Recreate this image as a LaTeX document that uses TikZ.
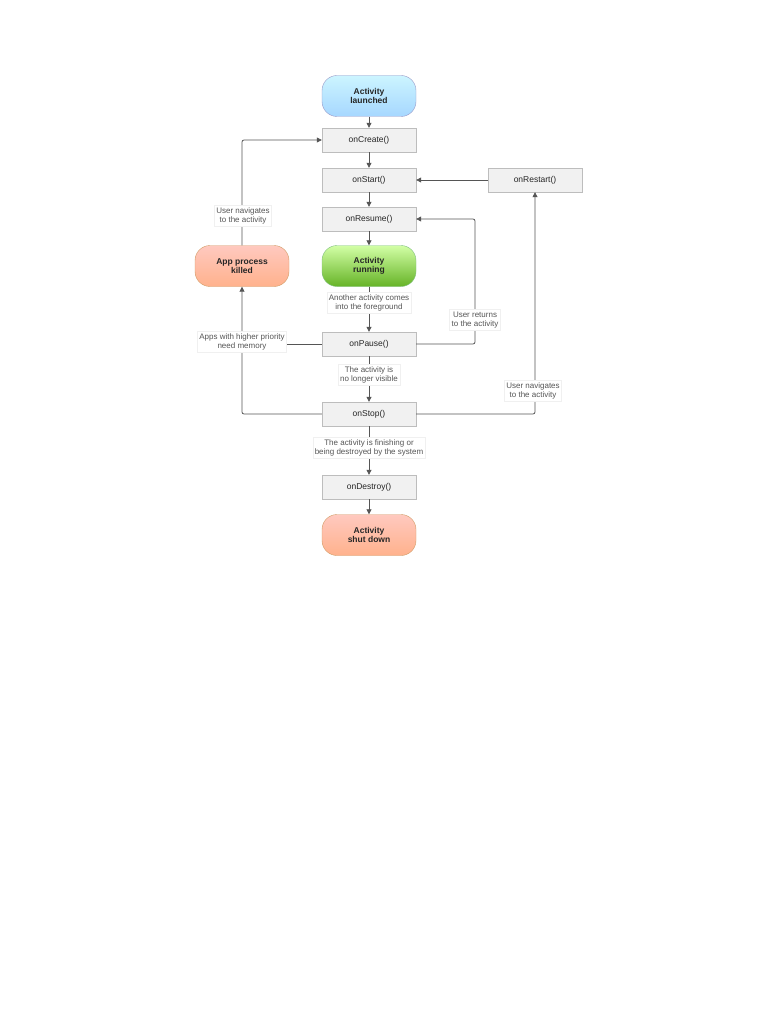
\documentclass[tikz,border=0pt]{standalone}
\usepackage{fontspec}
\setmainfont{Liberation Sans}
\usetikzlibrary{arrows.meta}
\definecolor{bfill}{HTML}{F1F1F1}
\definecolor{bline}{HTML}{BDBDBD}
\definecolor{lcol}{HTML}{555555}
\definecolor{tcol}{HTML}{555555}
\begin{document}
\begin{tikzpicture}[x=1pt,y=-1pt,
  cb/.style={draw=bline,fill=bfill,minimum width=94pt,minimum height=24pt,inner sep=0pt,font=\fontsize{8.5}{10}\selectfont,text=black!85},
  pill/.style={rounded corners=15pt,minimum width=94pt,minimum height=41pt,inner sep=0pt,align=center,font=\bfseries\fontsize{8.5}{9.5}\selectfont,text=black!85},
  lab/.style={fill=white,draw=black!6,align=center,inner sep=2pt,font=\fontsize{8}{9.5}\selectfont,text=tcol},
  ln/.style={draw=lcol,line width=0.8pt},
  ar/.style={ln,-{Triangle[length=5pt,width=5pt]}}]
\useasboundingbox (0,0) rectangle (768,1024);
\node[pill,draw=blue!45!black!40,top color=blue!20!cyan!20,bottom color=blue!45!cyan!35] (launch) at (369,96) {Activity\\launched};
\node[cb] (create) at (369,140) {onCreate()};
\node[cb] (start) at (369,180) {onStart()};
\node[cb] (restart) at (535,180) {onRestart()};
\node[cb] (resume) at (369,219) {onResume()};
\node[pill,draw=green!50!black!50,top color=green!50!yellow!35,bottom color=green!55!yellow!65!black!85] (running) at (369,266) {Activity\\running};
\node[pill,draw=orange!70!black!60,top color=orange!30!red!25,bottom color=orange!65!red!45] (killed) at (242,266) {App process\\killed};
\node[cb] (pause) at (369,344) {onPause()};
\node[cb] (stop) at (369,414) {onStop()};
\node[cb] (destroy) at (369,487) {onDestroy()};
\node[pill,draw=orange!70!black!60,top color=orange!30!red!25,bottom color=orange!65!red!45] (shut) at (369,535) {Activity\\shut down};
\draw[ar] (launch) -- (create);
\draw[ar] (create) -- (start);
\draw[ar] (start) -- (resume);
\draw[ar] (resume) -- (running);
\draw[ar] (running) -- (pause);
\draw[ar] (pause) -- (stop);
\draw[ar] (stop) -- (destroy);
\draw[ar] (destroy) -- (shut);
\draw[ar] (restart) -- (start);
\draw[ar,rounded corners=2pt] (killed.north) |- (create.west);
\draw[ar,rounded corners=2pt] (stop.west) -| (killed.south);
\draw[ln] (pause.west) -- (243,344);
\draw[ar,rounded corners=2pt] (pause.east) -- (475,344) |- (resume.east);
\draw[ar,rounded corners=2pt] (stop.east) -| (restart.south);
\node[lab] (l1) at (243,216) {User navigates\\to the activity};
\node[lab] (l2) at (369,303) {Another activity comes\\into the foreground};
\node[lab] (l3) at (475,320) {User returns\\to the activity};
\node[lab] (l4) at (242,342) {Apps with higher priority\\need memory};
\node[lab] (l5) at (369,375) {The activity is\\no longer visible};
\node[lab] (l6) at (533,391) {User navigates\\to the activity};
\node[lab] (l7) at (369,448) {The activity is finishing or\\being destroyed by the system};
\end{tikzpicture}
\end{document}
